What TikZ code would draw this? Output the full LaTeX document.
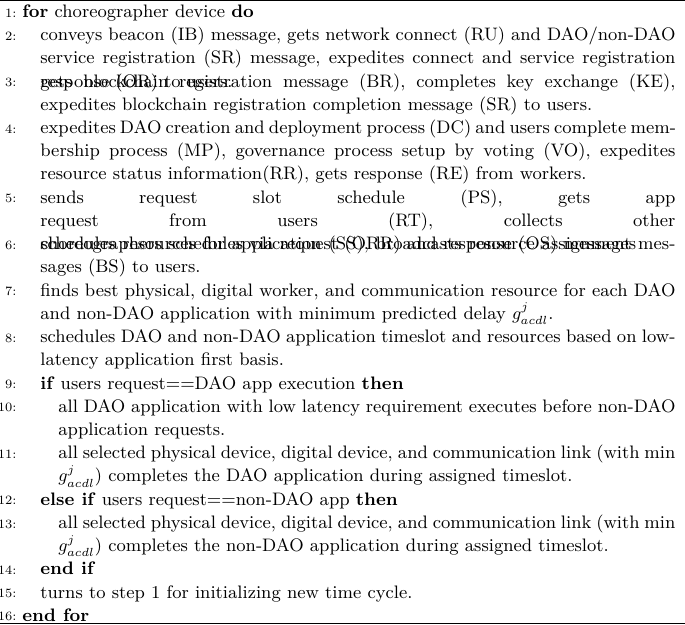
\documentclass[tikz,border=0pt]{standalone}
\usepackage{amsmath}
\begin{document}
\begin{tikzpicture}[x=0.51pt,y=-0.51pt,
  num/.style={anchor=base east,inner sep=0pt,font=\fontsize{6.5}{8}\selectfont},
  lvl/.style={anchor=north west,inner sep=0pt,align=justify,font=\fontsize{9.22}{11.85}\selectfont}]
\useasboundingbox (0,0) rectangle (685,624);
\draw[line width=0.8pt] (0,0.6) -- (685,0.6);
\draw[line width=0.8pt] (0,623.3) -- (685,623.3);
\foreach \n/\v in {1/1,2/2,3/4,4/6,5/9,6/11,7/13,8/15,9/17,10/18,11/20,12/22,13/23,14/25,15/26,16/27}{
  \node[num] (n\n) at (17,{17+23.23*(\v-1)}) {\n:};
}
\node[lvl,text width=333pt] (t1) at (22,{17-16.3}) {\strut\textbf{for} choreographer device \textbf{do}};
\node[lvl,text width=323.9pt] (t2) at (40,{17+23.23-16.3}) {\strut conveys beacon (IB) message, gets network connect (RU) and DAO/non-DAO\linebreak service registration (SR) message, expedites connect and service registration\linebreak response (OR) to users.};
\node[lvl,text width=323.9pt] (t3) at (40,{17+23.23*3-16.3}) {\strut gets blockchain registration message (BR), completes key exchange (KE),\linebreak expedites blockchain registration completion message (SR) to users.};
\node[lvl,text width=323.9pt] (t4) at (40,{17+23.23*5-16.3}) {\strut expedites DAO creation and deployment process (DC) and users complete mem-\linebreak bership process (MP), governance process setup by voting (VO), expedites\linebreak resource status information(RR), gets response (RE) from workers.};
\node[lvl,text width=323.9pt] (t5) at (40,{17+23.23*8-16.3}) {\strut sends request slot schedule (PS), gets app request from users (RT), collects other\linebreak choreographers schedules via request (ORR) and response (OS) messages};
\node[lvl,text width=323.9pt] (t6) at (40,{17+23.23*10-16.3}) {\strut schedules resources for application (SS), broadcasts resource assignment mes-\linebreak sages (BS) to users.};
\node[lvl,text width=323.9pt] (t7) at (40,{17+23.23*12-16.3}) {\strut finds best physical, digital worker, and communication resource for each DAO\linebreak and non-DAO application with minimum predicted delay $g^{j}_{acdl}$.};
\node[lvl,text width=323.9pt] (t8) at (40,{17+23.23*14-16.3}) {\strut schedules DAO and non-DAO application timeslot and resources based on low-\linebreak latency application first basis.};
\node[lvl,text width=323.9pt] (t9) at (40,{17+23.23*16-16.3}) {\strut\textbf{if} users request==DAO app execution \textbf{then}};
\node[lvl,text width=314.7pt] (t10) at (58,{17+23.23*17-16.3}) {\strut all DAO application with low latency requirement executes before non-DAO\linebreak application requests.};
\node[lvl,text width=314.7pt] (t11) at (58,{17+23.23*19-16.3}) {\strut all selected physical device, digital device, and communication link (with min\linebreak $g^{j}_{acdl}$) completes the DAO application during assigned timeslot.};
\node[lvl,text width=323.9pt] (t12) at (40,{17+23.23*21-16.3}) {\strut\textbf{else if} users request==non-DAO app \textbf{then}};
\node[lvl,text width=314.7pt] (t13) at (58,{17+23.23*22-16.3}) {\strut all selected physical device, digital device, and communication link (with min\linebreak $g^{j}_{acdl}$) completes the non-DAO application during assigned timeslot.};
\node[lvl,text width=323.9pt] (t14) at (40,{17+23.23*24-16.3}) {\strut\textbf{end if}};
\node[lvl,text width=323.9pt] (t15) at (40,{17+23.23*25-16.3}) {\strut turns to step 1 for initializing new time cycle.};
\node[lvl,text width=333pt] (t16) at (22,{17+23.23*26-16.3}) {\strut\textbf{end for}};
\end{tikzpicture}
\end{document}
